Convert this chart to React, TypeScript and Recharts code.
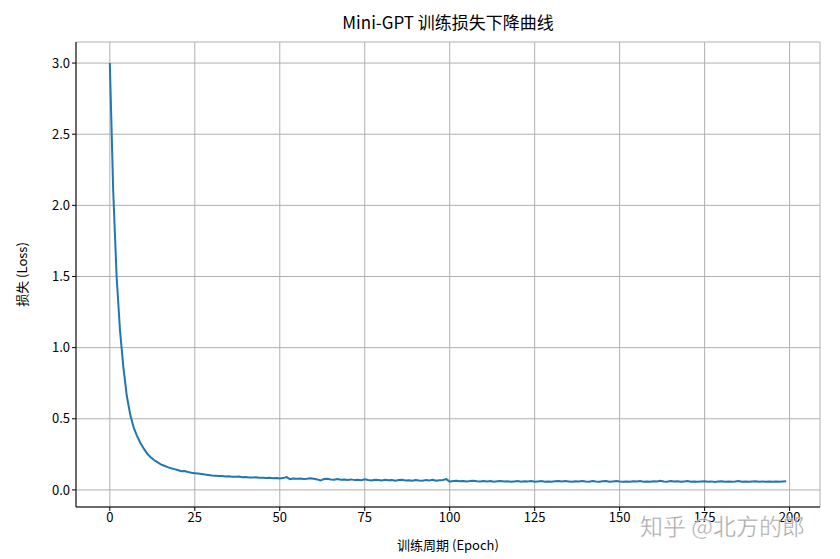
import {
  CartesianGrid,
  Label,
  Line,
  LineChart,
  XAxis,
  YAxis
} from 'recharts'

// loss per epoch (epochs 0..199)
const lossValues: number[] = [
  3.0, 2.1, 1.5, 1.12, 0.86, 0.66, 0.53, 0.44, 0.38, 0.33,
  0.29, 0.255, 0.23, 0.21, 0.195, 0.18, 0.17, 0.16, 0.152, 0.146,
  0.14, 0.131, 0.133, 0.126, 0.121, 0.118, 0.115, 0.112, 0.108, 0.105,
  0.102, 0.1, 0.098, 0.097, 0.095, 0.096, 0.093, 0.092, 0.094, 0.089,
  0.09, 0.088, 0.087, 0.089, 0.085, 0.086, 0.083, 0.085, 0.082, 0.084,
  0.081, 0.083, 0.09, 0.076, 0.08, 0.078, 0.081, 0.077, 0.079, 0.082,
  0.078, 0.074, 0.066, 0.077, 0.079, 0.074, 0.072, 0.076, 0.071, 0.073,
  0.07, 0.074, 0.069, 0.072, 0.068, 0.075, 0.07, 0.067, 0.071, 0.069,
  0.066, 0.072, 0.068, 0.07, 0.065, 0.069, 0.071, 0.066, 0.068, 0.064,
  0.07, 0.067, 0.065, 0.069, 0.066, 0.071, 0.064, 0.068, 0.07, 0.076,
  0.058, 0.062, 0.064, 0.061, 0.063, 0.06, 0.062, 0.065, 0.061, 0.059,
  0.063, 0.06, 0.062, 0.058, 0.061, 0.063, 0.059, 0.061, 0.057, 0.06,
  0.062, 0.058, 0.061, 0.059, 0.063, 0.057, 0.06, 0.062, 0.058, 0.06,
  0.057, 0.061, 0.063, 0.059, 0.062, 0.06, 0.058, 0.061, 0.059, 0.063,
  0.06, 0.058, 0.062, 0.059, 0.057, 0.061, 0.063, 0.058, 0.06, 0.062,
  0.059, 0.057, 0.06, 0.058, 0.061, 0.059, 0.062, 0.058, 0.06, 0.057,
  0.061, 0.059, 0.064, 0.06, 0.058, 0.062, 0.059, 0.061, 0.057, 0.06,
  0.062, 0.058, 0.06, 0.057, 0.059, 0.061, 0.058, 0.06, 0.056, 0.059,
  0.061, 0.058, 0.06, 0.057, 0.059, 0.062, 0.058, 0.06, 0.057, 0.059,
  0.061, 0.058, 0.06, 0.057, 0.059, 0.058, 0.06, 0.057, 0.059, 0.061
]

const xTicks = [0, 25, 50, 75, 100, 125, 150, 175, 200]
const yTicks = [0, 0.5, 1.0, 1.5, 2.0, 2.5, 3.0]

const data = lossValues.map((loss, epoch) => ({ epoch, loss }))

const font = '"Noto Sans CJK SC", "DejaVu Sans", sans-serif'
const tickStyle = { fill: '#000', fontSize: 13, fontFamily: font }

export default function App() {
  return (
    <div style={{ position: 'absolute', left: 0, top: 0, width: 840, height: 559, background: '#fff' }}>
      <div
        style={{
          position: 'absolute',
          top: 9,
          left: 76,
          width: 744,
          textAlign: 'center',
          fontFamily: font,
          fontSize: 17,
          color: '#000'
        }}
      >
        Mini-GPT 训练损失下降曲线
      </div>
      <LineChart
        width={840}
        height={559}
        data={data}
        margin={{ top: 42, right: 20, left: 36, bottom: 22 }}
      >
        <CartesianGrid stroke="#b0b0b0" strokeWidth={1} />
        <XAxis
          dataKey="epoch"
          type="number"
          domain={[-9.95, 208.95]}
          ticks={xTicks}
          allowDataOverflow
          height={30}
          tickSize={4}
          tick={tickStyle}
          stroke="#000"
          tickLine={{ stroke: '#000' }}
        >
          <Label
            value="训练周期 (Epoch)"
            position="insideBottom"
            offset={-13}
            style={{ fill: '#000', fontSize: 13, fontFamily: font }}
          />
        </XAxis>
        <XAxis xAxisId="top" orientation="top" dataKey="epoch" type="number" domain={[-9.95, 208.95]} height={0} tick={false} tickLine={false} stroke="#000" />
        <YAxis
          type="number"
          domain={[-0.12, 3.148]}
          ticks={yTicks}
          allowDataOverflow
          width={40}
          tickSize={4}
          tick={tickStyle}
          tickFormatter={(v: number) => v.toFixed(1)}
          stroke="#000"
          tickLine={{ stroke: '#000' }}
        >
          <Label
            value="损失 (Loss)"
            angle={-90}
            position="insideLeft"
            offset={-14}
            style={{ fill: '#000', fontSize: 13, fontFamily: font, textAnchor: 'middle' }}
          />
        </YAxis>
        <YAxis yAxisId="right" orientation="right" domain={[-0.12, 3.148]} width={0} tick={false} tickLine={false} stroke="#000" />
        <Line
          type="linear"
          dataKey="loss"
          stroke="#1f77b4"
          strokeWidth={2}
          dot={false}
          isAnimationActive={false}
        />
      </LineChart>
      <div
        style={{
          position: 'absolute',
          left: 640,
          top: 508,
          fontFamily: font,
          fontSize: 23,
          color: 'rgba(140,140,140,0.75)',
          WebkitTextStroke: '0.5px rgba(255,255,255,0.8)',
          whiteSpace: 'nowrap'
        }}
      >
        知乎 @北方的郎
      </div>
    </div>
  )
}
